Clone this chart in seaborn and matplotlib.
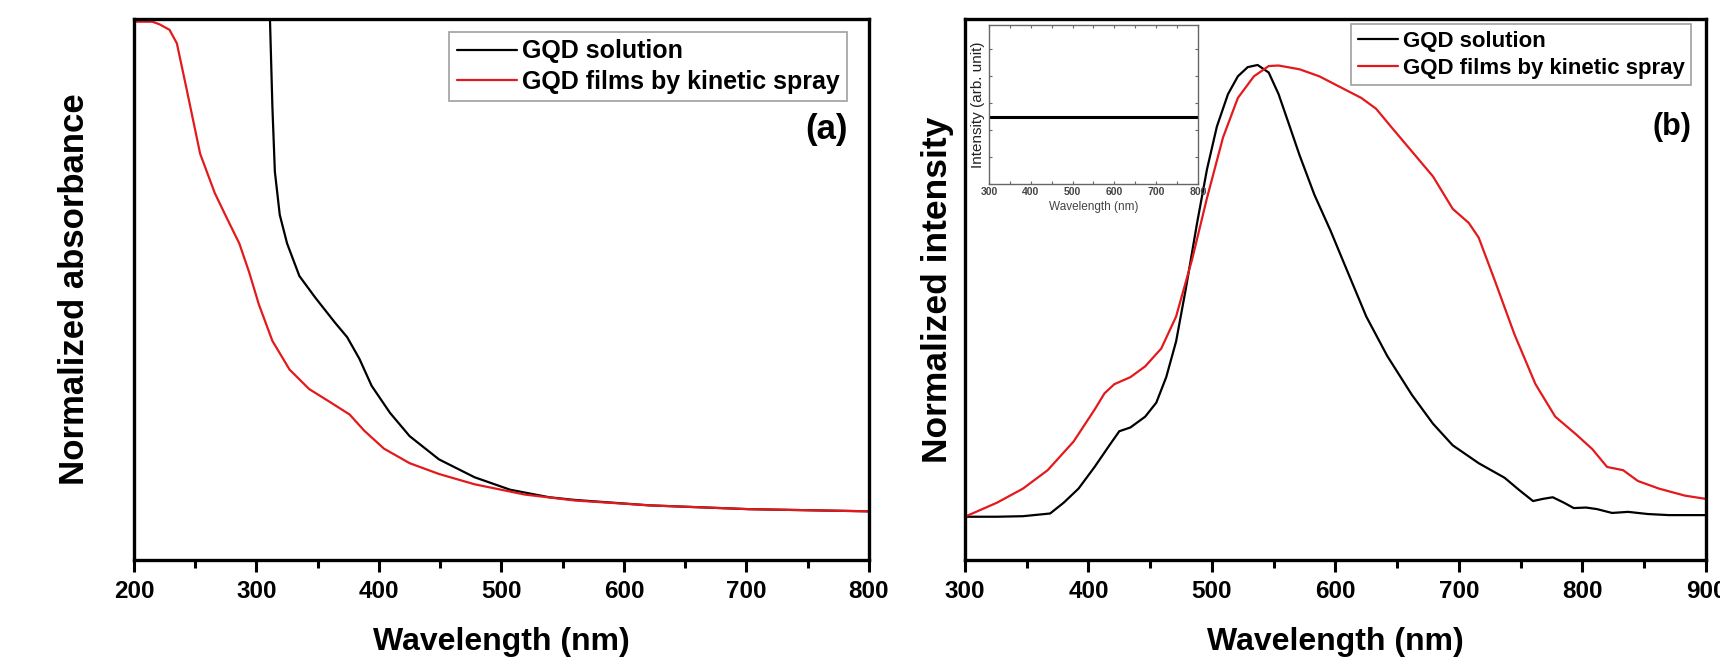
import numpy as np
import pandas as pd
import seaborn as sns
import matplotlib.pyplot as plt
from matplotlib.ticker import MultipleLocator, NullFormatter

# ---------------- data ----------------
# (a) normalized absorbance
abs_sol_nm = [310, 311, 313, 315, 319, 325, 335, 348, 364, 374, 384, 394, 409, 425,
              449, 478, 507, 539, 560, 621, 702, 800]
abs_sol_val = [1.05, 1.0, 0.837, 0.718, 0.638, 0.585, 0.525, 0.485, 0.439, 0.412, 0.372,
               0.322, 0.272, 0.229, 0.186, 0.153, 0.130, 0.116, 0.111, 0.101, 0.094, 0.090]
abs_film_nm = [200, 215, 221, 229, 235, 243, 254, 266, 276, 286, 294, 302, 313, 327, 343,
               360, 376, 388, 404, 425, 449, 478, 519, 560, 621, 702, 800]
abs_film_val = [0.995, 0.995, 0.99, 0.98, 0.955, 0.870, 0.751, 0.678, 0.631, 0.585, 0.532,
                0.472, 0.405, 0.352, 0.316, 0.292, 0.269, 0.239, 0.206, 0.179, 0.159, 0.140,
                0.121, 0.110, 0.101, 0.094, 0.090]

# (b) normalized PL intensity
pl_sol_nm = [300, 326, 347, 369, 380, 392, 405, 417, 425, 434, 446, 455, 463, 471, 479,
             488, 496, 504, 513, 521, 529, 537, 546, 554, 562, 571, 583, 596, 608, 625,
             642, 662, 679, 695, 716, 737, 749, 760, 768, 776, 785, 793, 803, 812, 824,
             837, 853, 870, 900]
pl_sol_val = [0.080, 0.080, 0.081, 0.086, 0.106, 0.132, 0.172, 0.212, 0.238, 0.245, 0.265,
              0.291, 0.338, 0.404, 0.503, 0.623, 0.722, 0.801, 0.861, 0.894, 0.911, 0.915,
              0.901, 0.861, 0.808, 0.748, 0.675, 0.609, 0.543, 0.450, 0.377, 0.305, 0.252,
              0.212, 0.179, 0.152, 0.129, 0.109, 0.113, 0.116, 0.106, 0.096, 0.097, 0.094,
              0.087, 0.089, 0.085, 0.083, 0.083]
pl_film_nm = [300, 326, 347, 367, 388, 405, 413, 421, 434, 446, 459, 471, 484, 496, 509,
              521, 534, 546, 554, 571, 587, 604, 621, 633, 645, 662, 679, 695, 708, 716,
              729, 745, 762, 778, 795, 808, 820, 833, 845, 862, 883, 900]
pl_film_val = [0.080, 0.106, 0.132, 0.166, 0.219, 0.278, 0.308, 0.325, 0.338, 0.358, 0.391,
               0.450, 0.556, 0.669, 0.781, 0.854, 0.894, 0.913, 0.914, 0.907, 0.894, 0.874,
               0.854, 0.834, 0.801, 0.755, 0.709, 0.649, 0.623, 0.596, 0.517, 0.417, 0.325,
               0.265, 0.232, 0.205, 0.172, 0.166, 0.146, 0.132, 0.119, 0.113]

# inset: flat signal
inset_nm = [300, 400, 500, 600, 700, 800]
inset_val = [0.42, 0.42, 0.42, 0.42, 0.42, 0.42]

labels = ['GQD solution', 'GQD films by kinetic spray']
colors = ['black', '#e3191c']

# ---------------- style ----------------
sns.set_style('ticks')
plt.rcParams['font.family'] = ['Liberation Sans', 'DejaVu Sans']
plt.rcParams['font.weight'] = 'bold'
plt.rcParams['text.color'] = 'black'
plt.rcParams['axes.labelcolor'] = 'black'
plt.rcParams['xtick.color'] = 'black'

fig = plt.figure(figsize=(17.2, 6.59), dpi=100)
ax_a = fig.add_axes([0.0779, 0.1502, 0.4273, 0.821])
ax_b = fig.add_axes([0.561, 0.1502, 0.4308, 0.821])


def style_main(ax, xmin, xmax, ylabel, ylab_size, ylab_pad):
    ax.set_xlim(xmin, xmax)
    ax.set_ylim(0, 1)
    ax.xaxis.set_major_locator(MultipleLocator(100))
    ax.xaxis.set_minor_locator(MultipleLocator(50))
    ax.set_yticks([])
    ax.tick_params(axis='x', which='major', direction='out', length=8.6, width=2.2,
                   labelsize=17.5, pad=6)
    ax.tick_params(axis='x', which='minor', direction='out', length=6, width=2.2)
    for lab in ax.get_xticklabels():
        lab.set_fontweight('bold')
    for sp in ax.spines.values():
        sp.set_linewidth(2.4)
        sp.set_visible(True)
        sp.set_color('black')
    ax.set_xlabel('Wavelength (nm)', fontsize=23, fontweight='bold', labelpad=17)
    ax.set_ylabel(ylabel, fontsize=ylab_size, fontweight='bold', labelpad=ylab_pad)


def style_legend(ax, anchor, size, hlen):
    leg = ax.legend(loc='upper right', bbox_to_anchor=anchor, fontsize=size,
                    frameon=True, fancybox=False, handlelength=hlen, handletextpad=0.2,
                    borderpad=0.3, labelspacing=0.25, borderaxespad=0)
    leg.get_frame().set_edgecolor('#888888')
    leg.get_frame().set_linewidth(1.2)
    for t in leg.get_texts():
        t.set_fontweight('bold')


# ---------------- panel (a) ----------------
df_a1 = pd.DataFrame({'nm': abs_sol_nm, 'val': abs_sol_val})
df_a2 = pd.DataFrame({'nm': abs_film_nm, 'val': abs_film_val})
sns.lineplot(data=df_a1, x='nm', y='val', ax=ax_a, color=colors[0], lw=1.6, label=labels[0])
sns.lineplot(data=df_a2, x='nm', y='val', ax=ax_a, color=colors[1], lw=1.6, label=labels[1])
style_main(ax_a, 200, 800, 'Normalized absorbance', 25, 31)
style_legend(ax_a, (0.970, 0.976), 18, 2.4)
ax_a.text(0.971, 0.795, '(a)', transform=ax_a.transAxes, ha='right', va='center',
          fontsize=25, fontweight='bold')

# ---------------- panel (b) ----------------
df_b1 = pd.DataFrame({'nm': pl_sol_nm, 'val': pl_sol_val})
df_b2 = pd.DataFrame({'nm': pl_film_nm, 'val': pl_film_val})
sns.lineplot(data=df_b1, x='nm', y='val', ax=ax_b, color=colors[0], lw=1.6, label=labels[0])
sns.lineplot(data=df_b2, x='nm', y='val', ax=ax_b, color=colors[1], lw=1.6, label=labels[1])
style_main(ax_b, 300, 900, 'Normalized intensity', 25.5, 8)
style_legend(ax_b, (0.98, 0.99), 16, 1.8)
ax_b.text(0.98, 0.80, '(b)', transform=ax_b.transAxes, ha='right', va='center',
          fontsize=22, fontweight='bold')

# ---------------- inset ----------------
ax_in = fig.add_axes([0.575, 0.7208, 0.1215, 0.2413])
df_in = pd.DataFrame({'nm': inset_nm, 'val': inset_val})
sns.lineplot(data=df_in, x='nm', y='val', ax=ax_in, color='black', lw=2.2)
ax_in.set_xlim(300, 800)
ax_in.set_ylim(0, 1)
ax_in.xaxis.set_major_locator(MultipleLocator(100))
ax_in.xaxis.set_minor_locator(MultipleLocator(50))
ax_in.yaxis.set_major_locator(MultipleLocator(0.17))
ax_in.yaxis.set_major_formatter(NullFormatter())
ax_in.tick_params(which='both', direction='in', top=True, right=True, length=2.5,
                  width=0.8, color='#666666', labelsize=7.5, labelcolor='#444444', pad=2)
for lab in ax_in.get_xticklabels():
    lab.set_fontweight('bold')
for sp in ax_in.spines.values():
    sp.set_linewidth(1.0)
    sp.set_color('#666666')
ax_in.set_xlabel('Wavelength (nm)', fontsize=8.5, color='#444444', labelpad=3)
ax_in.set_ylabel('Intensity (arb. unit)', fontsize=11, fontweight='normal',
                 color='#222222', labelpad=1)

fig.savefig('out.png', dpi=100)
